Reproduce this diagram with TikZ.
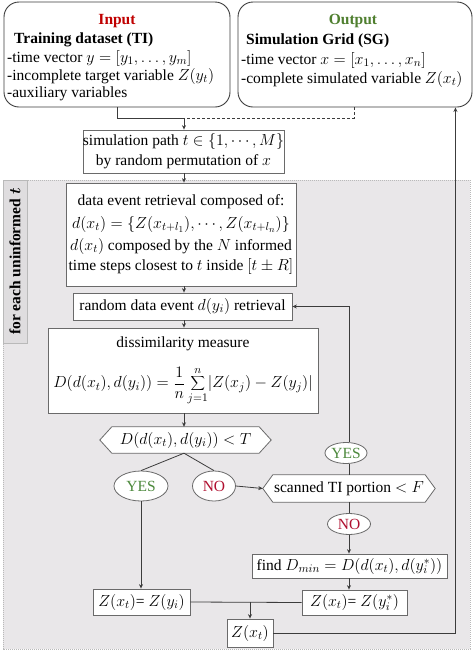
\RequirePackage{fix-cm}
\documentclass[tikz,border=0pt]{standalone}
\usepackage{fontspec}
\setmainfont{Liberation Serif}
\DeclareMathSizes{15.5}{16}{11.5}{9}
\usetikzlibrary{shapes.geometric,arrows.meta}
\definecolor{regionfill}{HTML}{E9E7E9}
\definecolor{tabfill}{HTML}{DFDDDF}
\definecolor{boxline}{HTML}{6A6A6A}
\definecolor{conline}{HTML}{3C3C3C}
\definecolor{inred}{HTML}{C00000}
\definecolor{outgreen}{HTML}{4F7F2F}
\definecolor{yesgreen}{HTML}{4E8A3E}
\definecolor{nored}{HTML}{B01030}
\tikzset{
  stepbox/.style={draw=boxline, fill=white, line width=0.8pt, inner sep=0pt, align=center},
  roundbox/.style={draw=conline, fill=white, line width=0.9pt, rounded corners=15pt, inner sep=0pt},
  hexbox/.style={inner sep=0pt, align=center},
  hexline/.style={draw=boxline, fill=white, line width=0.8pt},
  oval/.style={ellipse, draw=boxline, fill=white, line width=0.8pt, inner sep=0pt},
  conn/.style={draw=conline, line width=0.8pt},
  arr/.style={conn, -{Stealth[length=4.5pt,width=4pt]}},
  txt/.style={inner sep=0pt, anchor=base west},
  mainfont/.style={font=\fontsize{15.5}{21}\selectfont},
  boldfont/.style={font=\fontsize{15.5}{18}\selectfont\bfseries}
}
\begin{document}
\begin{tikzpicture}[x=1pt,y=-1pt, mainfont]
\useasboundingbox (0,0) rectangle (474,651);

% gray region
\path[fill=regionfill, draw=gray!55, line width=0.6pt, dash pattern=on 1.2pt off 0.8pt] (3,180) rectangle (470,649);
\node[draw=gray!55, fill=tabfill, line width=0.5pt, minimum width=24, minimum height=163, inner sep=0pt] (tab) at (15,261.5) {};
\node[rotate=90, inner sep=0pt, boldfont] (tablbl) at (tab.center) {for each uninformed {\boldmath$t$}};

% input / output
\node[roundbox, minimum width=226, minimum height=105] (inp) at (117,54.5) {};
\node[inner sep=0pt, anchor=base, boldfont, text=inred] (inT) at (117,24) {Input};
\node[txt, boldfont] (in1) at (14,43) {Training dataset (TI)};
\node[txt] (in2) at (7,62) {-time vector $y=[y_1,\dots,y_m]$};
\node[txt] (in3) at (7,80) {-incomplete target variable $Z(y_t)$};
\node[txt] (in4) at (7,97) {-auxiliary variables};

\node[roundbox, minimum width=234, minimum height=105] (out) at (355,54.5) {};
\node[inner sep=0pt, anchor=base, boldfont, text=outgreen] (outT) at (353,24) {Output};
\node[txt, boldfont] (out1) at (246,44) {Simulation Grid (SG)};
\node[txt] (out2) at (241,64) {-time vector $x=[x_1,\dots,x_n]$};
\node[txt] (out3) at (241,83) {-complete simulated variable $Z(x_t)$};

% simulation path
\coordinate (jn) at (184,118);
\node[stepbox, minimum width=195, minimum height=43] (sim) at (183.5,151.5)
  {simulation path $t\in\{1,\cdots,M\}$\\[-1pt] by random permutation of $x$};

\node[stepbox, minimum width=230, minimum height=103] (data) at (181,234.5)
  {data event retrieval composed of:\\[2pt]
   $d(x_t)=\bigl\{Z\bigl(x_{t+l_1}\bigr),\cdots,Z\bigl(x_{t+l_n}\bigr)\bigr\}$\\[1pt]
   $d(x_t)$ composed by the $N$ informed\\[-1pt]
   time steps closest to $t$ inside $[t\pm R]$};

\node[stepbox, minimum width=219, minimum height=27] (rand) at (182.5,306.5)
  {random data event $d(y_i)$ retrieval};

\node[stepbox, minimum width=270, minimum height=85] (dis) at (183,370.5)
  {dissimilarity measure\\[15pt]
   $\displaystyle D\bigl(d(x_t),d(y_i)\bigr)=\frac{1}{n}\sum_{j=1}^{n}\bigl|Z(x_j)-Z(y_j)\bigr|$};

% hexagon 1
\node[hexbox, minimum width=147, minimum height=26] (hex1) at (185.5,440) {};
\path[hexline] (hex1.north west) -- (hex1.north east) -- ([xshift=12pt]hex1.east) -- (hex1.south east) -- (hex1.south west) -- ([xshift=-12pt]hex1.west) -- cycle;
\node[hexbox] (hex1T) at (hex1.center) {$D\bigl(d(x_t),d(y_i)\bigr)<T$};

\node[oval, minimum width=54, minimum height=30, text=yesgreen] (yes1) at (141,486) {YES};
\node[oval, minimum width=43, minimum height=30, text=nored] (no1) at (214,486) {NO};

% scanned hexagon
\node[hexbox, minimum width=152, minimum height=27] (scan) at (349,488.5) {};
\path[hexline] (scan.north west) -- (scan.north east) -- ([xshift=10pt]scan.east) -- (scan.south east) -- (scan.south west) -- ([xshift=-10pt]scan.west) -- cycle;
\node[hexbox] (scanT) at (scan.center) {scanned TI portion $<F$};

\node[oval, minimum width=42, minimum height=21, text=yesgreen] (yes2) at (346,453) {YES};
\node[oval, minimum width=43, minimum height=21, text=nored] (no2) at (349,524) {NO};

\node[stepbox, minimum width=195, minimum height=24] (find) at (349.5,566)
  {find $D_{min}=D\bigl(d(x_t),d(y_i^*)\bigr)$};
\node[stepbox, minimum width=105, minimum height=25] (zs) at (354.5,602.5)
  {$Z(x_t)$= $Z(y_i^*)$};
\node[stepbox, minimum width=97, minimum height=26] (zy) at (141.5,602)
  {$Z(x_t)$= $Z(y_i)$};
\node[stepbox, minimum width=46, minimum height=28] (zx) at (250,633)
  {$Z(x_t)$};

% connectors
\draw[conn] (inp.south) |- (jn);
\draw[conn, dash pattern=on 3pt off 2pt] ([xshift=-1pt]out.south) |- (jn);
\draw[arr] (jn) -- (sim.north -| jn);
\draw[arr] (sim.south -| jn) -- (data.north -| jn);
\draw[arr] (data.south -| jn) -- (rand.north -| jn);
\draw[arr] (rand.south -| jn) -- (dis.north -| jn);
\draw[arr] (dis.south -| jn) -- (hex1.north -| jn);
\draw[conn] (hex1.south -| jn) -- (yes1.north);
\draw[conn] (hex1.south -| jn) -- (no1.north);
\draw[arr] (no1.east) -- ([xshift=-10pt]scan.west);
\draw[conn] (scan.north) -- (scan.north |- yes2.south);
\draw[arr] (scan.north |- yes2.north) |- (rand.east);
\draw[conn] (scan.south) -- (no2.north);
\draw[arr] (no2.south) -- (find.north -| no2.south);
\draw[arr] (find.south -| no2.south) -- (zs.north -| no2.south);
\draw[arr] (yes1.south) -- (yes1.south |- zy.north);
\draw[conn] (zy.east) -- (zs.west);
\draw[arr] (zx.north |- zy.east) -- (zx.north);
\draw[arr] (zx.east) -| ([xshift=-17pt]out.south east);
\end{tikzpicture}
\end{document}
